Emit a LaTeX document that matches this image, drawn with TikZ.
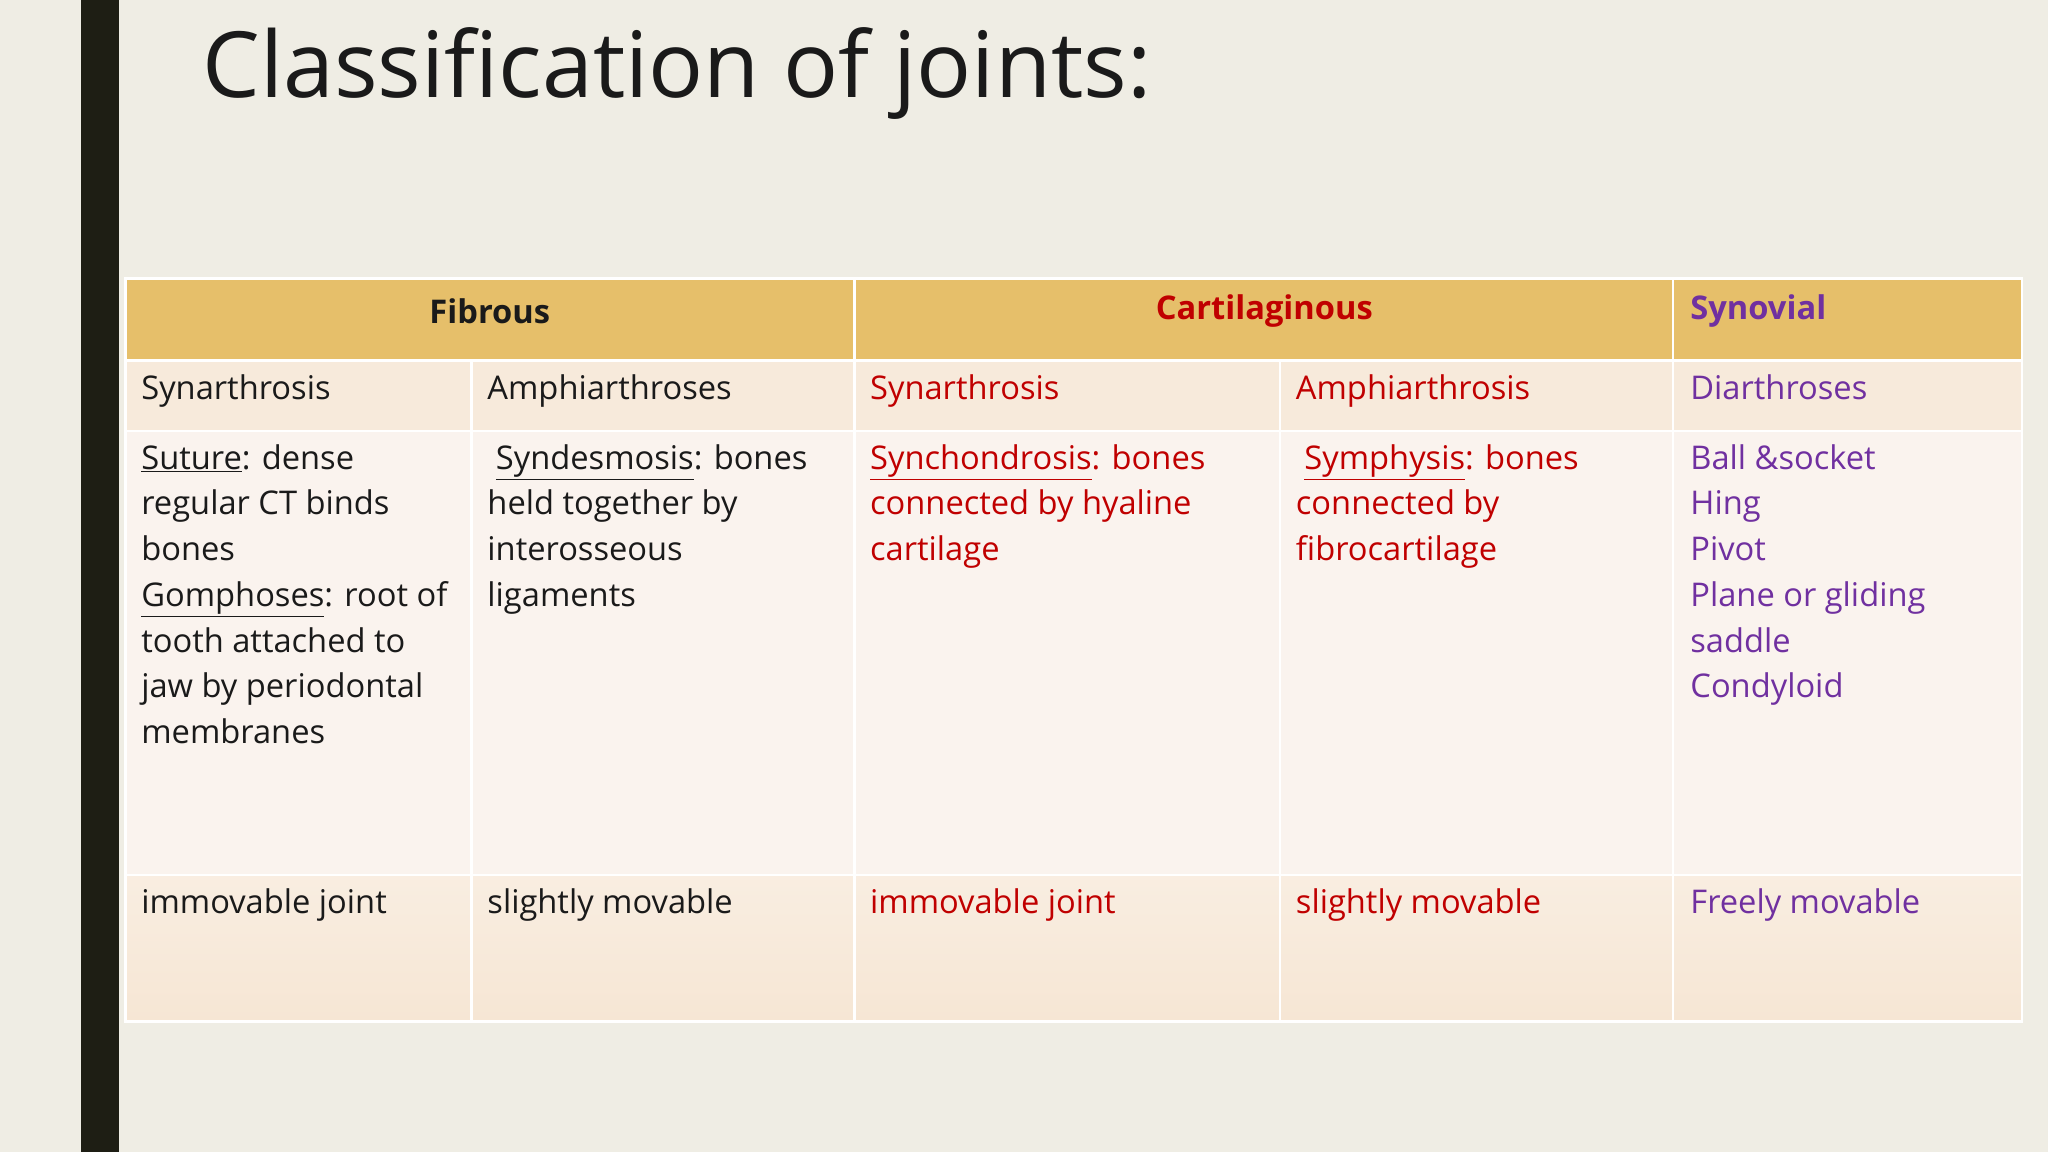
\documentclass[tikz,border=0pt]{standalone}
\usepackage{fontspec}
\setmainfont{Open Sans}
\definecolor{bg}{HTML}{EFEDE4}
\definecolor{barc}{HTML}{1E1E14}
\definecolor{hdr}{HTML}{E6BF6A}
\definecolor{rowa}{HTML}{F7EADB}
\definecolor{rowb}{HTML}{FAF3EE}
\definecolor{rowc}{HTML}{F6E6D4}
\definecolor{redc}{HTML}{C00000}
\definecolor{purc}{HTML}{7030A0}
\definecolor{txt}{HTML}{1A1A1A}
\tikzset{
  cell/.style={anchor=north west,inner sep=0pt,align=left,font=\fontsize{25}{35}\selectfont,text=txt},
  hcell/.style={anchor=center,inner sep=0pt,font=\fontsize{25}{35}\selectfont\bfseries},
  box/.style={draw=white,line width=2pt}
}
\begin{document}
\begin{tikzpicture}[x=1pt,y=-1pt]
\useasboundingbox (0,0) rectangle (1568,882);
\fill[bg] (0,0) rectangle (1568,882);
\fill[barc] (62,0) rectangle (91,882);
\node[anchor=base west,inner sep=0pt,font=\fontsize{70}{80}\selectfont,text=txt] (title) at (155,75) {Classification of joints:};
% header
\fill[box,fill=hdr] (96,213) rectangle (654,276);
\fill[box,fill=hdr] (654,213) rectangle (1281,276);
\fill[box,fill=hdr] (1281,213) rectangle (1548,276);
\foreach \a/\b in {96/361,361/654,654/980,980/1281,1281/1548}{
  \fill[box,fill=rowa] (\a,276) rectangle (\b,330);
  \fill[box,fill=rowb] (\a,330) rectangle (\b,670);
  \fill[box,top color=rowc!70!white,bottom color=rowc] (\a,670) rectangle (\b,782);
}
\node[hcell,text=txt] (h1) at (375,238) {Fibrous};
\node[hcell,text=redc] (h2) at (968,238) {Cartilaginous};
\node[hcell,text=purc,anchor=west] (h3) at (1294,238) {Synovial};
% row 2
\node[cell] (a1) at (108,287) {Synarthrosis};
\node[cell] (a2) at (373,287) {Amphiarthroses};
\node[cell,text=redc] (a3) at (666,287) {Synarthrosis};
\node[cell,text=redc] (a4) at (992,287) {Amphiarthrosis};
\node[cell,text=purc] (a5) at (1294,287) {Diarthroses};
% row 3
\node[cell] (b1) at (108,340) {\underline{Suture}: dense\\regular CT binds\\bones\\\underline{Gomphoses}: root of\\tooth attached to\\jaw by periodontal\\membranes};
\node[cell] (b2) at (373,340) {\ \underline{Syndesmosis}: bones\\held together by\\interosseous\\ligaments};
\node[cell,text=redc] (b3) at (666,340) {\underline{Synchondrosis}: bones\\connected by hyaline\\cartilage};
\node[cell,text=redc] (b4) at (992,340) {\ \underline{Symphysis}: bones\\connected by\\fibrocartilage};
\node[cell,text=purc] (b5) at (1294,340) {Ball \&socket\\Hing\\Pivot\\Plane or gliding\\saddle\\Condyloid};
% row 4
\node[cell] (c1) at (108,680) {immovable joint};
\node[cell] (c2) at (373,680) {slightly movable};
\node[cell,text=redc] (c3) at (666,680) {immovable joint};
\node[cell,text=redc] (c4) at (992,680) {slightly movable};
\node[cell,text=purc] (c5) at (1294,680) {Freely movable};
\end{tikzpicture}
\end{document}
